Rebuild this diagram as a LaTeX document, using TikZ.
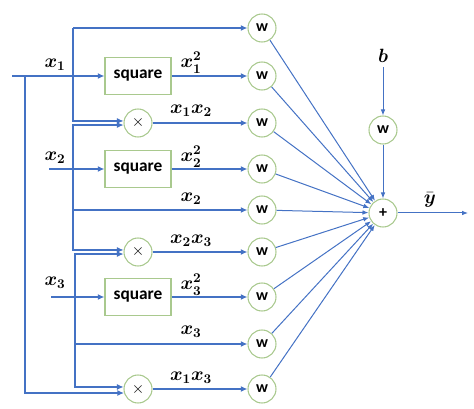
\documentclass[tikz,border=0pt]{standalone}
\usepackage{fontspec}
\setsansfont{Carlito}
\usepackage{amsmath}
\usetikzlibrary{arrows.meta}
\definecolor{lineblue}{HTML}{4472C4}
\definecolor{boxgreen}{HTML}{A9C98E}
\begin{document}
\begin{tikzpicture}[x=0.75pt, y=-0.75pt,
    every node/.style={font=\fontsize{12}{14}\selectfont},
    sqbox/.style={draw=boxgreen, line width=0.8pt, minimum width=49.5pt, minimum height=27.75pt, font=\sffamily\bfseries\fontsize{13}{15}\selectfont},
    mulnode/.style={circle, draw=boxgreen, line width=0.8pt, minimum size=21pt, inner sep=0pt},
    wnode/.style={circle, draw=boxgreen, line width=0.8pt, minimum size=21pt, inner sep=0pt, font=\sffamily\bfseries\fontsize{12}{14}\selectfont},
    feed/.style={lineblue, line width=1.8pt, -{Latex[length=5pt,width=4.5pt]}},
    link/.style={lineblue, line width=0.75pt, -{Latex[length=4.5pt,width=3.5pt]}},
    lbl/.style={font=\fontsize{14.5}{16}\selectfont}]
    \useasboundingbox (0,0) rectangle (474,409);

    % Squares and products
    \node[sqbox] (sq1) at (138,76) {square};
    \node[sqbox] (sq2) at (138,169) {square};
    \node[sqbox] (sq3) at (138,297) {square};
    \node[mulnode] (mul1) at (138,123) {$\times$};
    \node[mulnode] (mul2) at (138,252) {$\times$};
    \node[mulnode] (mul3) at (138,389) {$\times$};

    % Weights
    \foreach \i/\y in {1/28, 2/76, 3/123, 4/169, 5/210, 6/252, 7/297, 8/344, 9/389}
        \node[wnode] (w\i) at (262,\y) {w};
    \node[wnode] (biasw) at (383,130) {w};
    \node[mulnode] (plus) at (383,213) {\sffamily\bfseries +};

    % Inputs
    \coordinate (x1in) at (12,76);
    \coordinate (x2in) at (49,169);
    \coordinate (x3in) at (51,297);
    \coordinate (c1) at (25,76);
    \coordinate (b1) at (73,28);
    \coordinate (b2) at (73,210);
    \coordinate (b3) at (75,344);
    \coordinate (yout) at (468,213);
    \node[lbl] (x1lab) at (55,65) {$\boldsymbol{x_1}$};
    \node[lbl] (x2lab) at (55,158) {$\boldsymbol{x_2}$};
    \node[lbl] (x3lab) at (55,283) {$\boldsymbol{x_3}$};

    \draw[feed] (x1in) -- (sq1);
    \draw[feed] (x2in) -- (sq2);
    \draw[feed] (x3in) -- (sq3);
    \draw[feed] (c1) |- (mul3.196);
    \draw[feed] (b1) |- (mul1.172);
    \draw[feed] (b2) |- (mul1.188);
    \draw[feed] (b2) |- (mul2.172);
    \draw[feed] (b3) |- (mul2.188);
    \draw[feed] (b3) |- (mul3.172);

    % Terms into weights
    \draw[feed] (b1) -- (w1);
    \draw[feed] (sq1) -- (w2);
    \draw[feed] (mul1) -- (w3);
    \draw[feed] (sq2) -- (w4);
    \draw[feed] (b2) -- (w5);
    \draw[feed] (mul2) -- (w6);
    \draw[feed] (sq3) -- (w7);
    \draw[feed] (b3) -- (w8);
    \draw[feed] (mul3) -- (w9);
    \node[lbl] (t2) at (191,63) {$\boldsymbol{x_1^2}$};
    \node[lbl] (t3) at (191,111) {$\boldsymbol{x_1x_2}$};
    \node[lbl] (t4) at (191,157) {$\boldsymbol{x_2^2}$};
    \node[lbl] (t5) at (191,199) {$\boldsymbol{x_2}$};
    \node[lbl] (t6) at (191,241) {$\boldsymbol{x_2x_3}$};
    \node[lbl] (t7) at (191,285) {$\boldsymbol{x_3^2}$};
    \node[lbl] (t8) at (191,332) {$\boldsymbol{x_3}$};
    \node[lbl] (t9) at (191,378) {$\boldsymbol{x_1x_3}$};

    % Sum
    \foreach \i in {1,...,9}
        \draw[link] (w\i) -- (plus);
    \node[lbl] (blab) at (383,56) {$\boldsymbol{b}$};
    \draw[link] (blab) -- (biasw);
    \draw[link] (biasw) -- (plus);
    \draw[link] (plus) -- (yout);
    \node[lbl] (ylab) at (430,200) {$\bar{\boldsymbol{y}}$};
\end{tikzpicture}
\end{document}
